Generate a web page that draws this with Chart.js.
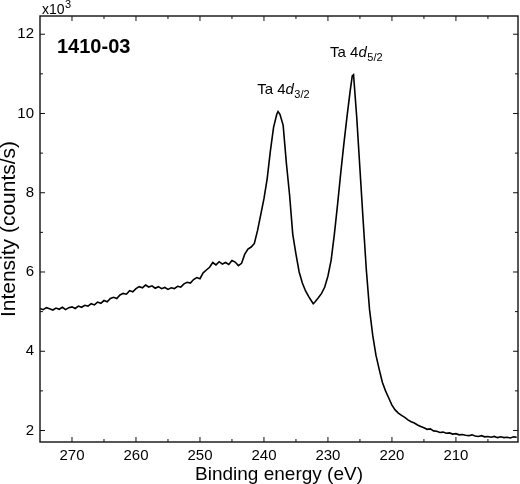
<!DOCTYPE html>
<html><head><meta charset="utf-8">
<script src="https://cdn.jsdelivr.net/npm/chart.js@4"></script>
<style>html,body{margin:0;padding:0;background:#fff}canvas{display:block}</style>
</head><body>
<canvas id="c" width="520" height="484"></canvas>
<script>
// Binding energy (eV)
const energies = [
 275.0,274.5,274.0,273.5,273.0,272.5,272.0,271.5,271.0,270.5,
 270.0,269.5,269.0,268.5,268.0,267.5,267.0,266.5,266.0,265.5,
 265.0,264.5,264.0,263.5,263.0,262.5,262.0,261.5,261.0,260.5,
 260.0,259.5,259.0,258.5,258.0,257.5,257.0,256.5,256.0,255.5,
 255.0,254.5,254.0,253.5,253.0,252.5,252.0,251.5,251.0,250.5,
 250.0,249.5,249.0,248.5,248.0,247.5,247.0,246.5,246.0,245.5,
 245.0,244.5,244.0,243.5,243.0,242.5,242.0,241.5,241.0,240.5,
 240.0,239.5,239.0,238.5,238.0,237.8,237.5,237.0,236.5,236.0,
 235.5,235.0,234.5,234.0,233.5,233.0,232.5,232.3,232.0,231.5,
 231.0,230.5,230.0,229.5,229.0,228.5,228.0,227.5,227.0,226.5,
 226.2,226.0,225.5,225.0,224.5,224.0,223.5,223.0,222.5,222.0,
 221.5,221.0,220.5,220.0,219.5,219.0,218.5,218.0,217.5,217.0,
 216.5,216.0,215.5,215.0,214.5,214.0,213.5,213.0,212.5,212.0,
 211.5,211.0,210.5,210.0,209.5,209.0,208.5,208.0,207.5,207.0,
 206.5,206.0,205.5,205.0,204.5,204.0,203.5,203.0,202.5,202.0,
 201.5,201.0,200.5
];
// Intensity (x10^3 counts/s)
const intensities = [
 5.08,5.05,5.10,5.07,5.04,5.09,5.06,5.11,5.05,5.10,
 5.12,5.08,5.14,5.11,5.16,5.14,5.20,5.17,5.24,5.21,
 5.28,5.25,5.33,5.36,5.33,5.42,5.46,5.44,5.53,5.50,
 5.58,5.63,5.60,5.67,5.62,5.65,5.59,5.63,5.58,5.61,
 5.56,5.60,5.58,5.64,5.62,5.70,5.74,5.72,5.81,5.86,
 5.83,5.98,6.05,6.12,6.24,6.18,6.26,6.20,6.24,6.19,
 6.29,6.25,6.16,6.22,6.45,6.58,6.63,6.72,7.05,7.45,
 7.85,8.35,9.05,9.65,9.98,10.05,9.98,9.70,8.75,7.95,
 6.95,6.45,6.00,5.72,5.52,5.38,5.25,5.20,5.25,5.35,
 5.46,5.62,5.90,6.30,6.95,7.70,8.50,9.25,9.95,10.60,
 10.95,10.98,9.90,8.60,7.30,6.05,5.05,4.40,3.90,3.55,
 3.22,3.00,2.82,2.64,2.52,2.44,2.38,2.33,2.27,2.22,
 2.19,2.14,2.10,2.07,2.03,2.04,1.99,1.98,1.95,1.96,
 1.93,1.94,1.91,1.92,1.89,1.90,1.88,1.87,1.89,1.86,
 1.85,1.87,1.84,1.85,1.83,1.85,1.82,1.84,1.82,1.83,
 1.81,1.84,1.83
];
const xMajorTicks = [270,260,250,240,230,220,210];
const xMinorTicks = [265,255,245,235,225,215,205];
const yMajorTicks = [2,4,6,8,10,12];
const yMinorTicks = [3,5,7,9,11];
const sampleLabel = '1410-03';
const xTitle = 'Binding energy (eV)';
const yTitle = 'Intensity (counts/s)';

const FONT = '"Liberation Sans", Arial, Helvetica, sans-serif';

const frameAndText = {
  id: 'frameAndText',
  afterDraw(chart) {
    const {ctx, chartArea: a, scales: {x, y}} = chart;
    ctx.save();
    ctx.strokeStyle = '#111';
    ctx.lineWidth = 1.4;
    ctx.strokeRect(a.left, a.top, a.right - a.left, a.bottom - a.top);
    const seg = (x1, y1, x2, y2) => { ctx.beginPath(); ctx.moveTo(x1, y1); ctx.lineTo(x2, y2); ctx.stroke(); };
    ctx.lineWidth = 1;
    xMajorTicks.forEach(v => { const p = x.getPixelForValue(v); seg(p, a.bottom, p, a.bottom - 5); seg(p, a.top, p, a.top + 5); });
    xMinorTicks.forEach(v => { const p = x.getPixelForValue(v); seg(p, a.bottom, p, a.bottom - 3); seg(p, a.top, p, a.top + 3); });
    yMajorTicks.forEach(v => { const p = y.getPixelForValue(v); seg(a.left, p, a.left + 5, p); seg(a.right, p, a.right - 5, p); });
    yMinorTicks.forEach(v => { const p = y.getPixelForValue(v); seg(a.left, p, a.left + 3, p); seg(a.right, p, a.right - 3, p); });

    ctx.fillStyle = '#000';
    ctx.textBaseline = 'alphabetic';
    ctx.textAlign = 'left';
    // multiplier
    ctx.font = '14px ' + FONT;
    ctx.fillText('x10', 42, 13.5);
    const w10 = ctx.measureText('x10').width;
    ctx.font = '11px ' + FONT;
    ctx.fillText('3', 42 + w10 + 0.5, 8);
    // sample label
    ctx.font = 'bold 20px ' + FONT;
    ctx.fillText(sampleLabel, 57, 53);
    // peak labels
    const peak = (cx, cy, sub) => {
      ctx.font = '15px ' + FONT;
      const w1 = ctx.measureText('Ta 4').width;
      ctx.font = 'italic 15px ' + FONT;
      const w2 = ctx.measureText('d').width;
      ctx.font = '11px ' + FONT;
      const w3 = ctx.measureText(sub).width;
      const total = w1 + w2 + w3;
      let sx = cx - total / 2;
      ctx.font = '15px ' + FONT; ctx.fillText('Ta 4', sx, cy);
      ctx.font = 'italic 15px ' + FONT; ctx.fillText('d', sx + w1, cy);
      ctx.font = '11px ' + FONT; ctx.fillText(sub, sx + w1 + w2 + 0.5, cy + 4);
    };
    peak(x.getPixelForValue(237.0), y.getPixelForValue(10.48), '3/2');
    peak(x.getPixelForValue(225.6), y.getPixelForValue(11.42), '5/2');
    ctx.restore();
  }
};

new Chart(document.getElementById('c'), {
  type: 'line',
  data: {
    datasets: [{
      data: energies.map((e, i) => ({x: e, y: intensities[i]})),
      borderColor: '#000',
      borderWidth: 1.6,
      pointRadius: 0,
      tension: 0,
      fill: false
    }]
  },
  options: {
    responsive: false,
    animation: false,
    events: [],
    layout: {padding: {top: 16, right: 2, left: 0, bottom: 0}},
    plugins: {legend: {display: false}, tooltip: {enabled: false}},
    scales: {
      x: {
        type: 'linear', reverse: true, min: 200.3, max: 275,
        afterBuildTicks(s) { s.ticks = xMajorTicks.map(v => ({value: v})); },
        afterFit(s) { s.height = 42; },
        grid: {display: false, drawTicks: false},
        border: {display: false},
        ticks: {color: '#000', font: {family: FONT, size: 15}, padding: 5, autoSkip: false, maxRotation: 0},
        title: {display: true, text: xTitle, color: '#000', font: {family: FONT, size: 19, lineHeight: 0.8}, padding: {top: 0, bottom: 1.5}}
      },
      y: {
        type: 'linear', min: 1.71, max: 12.46,
        afterBuildTicks(s) { s.ticks = yMajorTicks.map(v => ({value: v})); },
        afterFit(s) { s.width = 40; },
        grid: {display: false, drawTicks: false},
        border: {display: false},
        ticks: {color: '#000', font: {family: FONT, size: 15}, padding: 6, autoSkip: false},
        title: {display: true, text: yTitle, color: '#000', font: {family: FONT, size: 21, lineHeight: 1}, padding: {top: -1, bottom: 0}}
      }
    }
  },
  plugins: [frameAndText]
});
</script>
</body></html>
